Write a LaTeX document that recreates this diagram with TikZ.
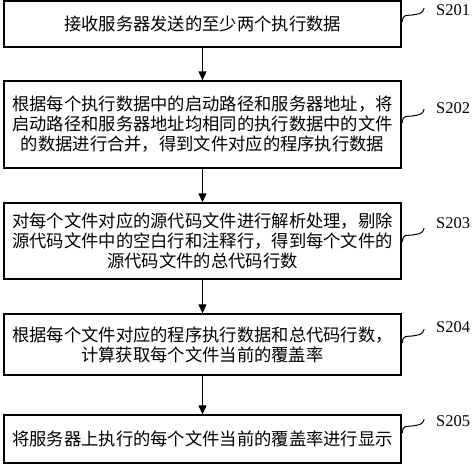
\documentclass[tikz,border=0pt]{standalone}
\usepackage{fontspec}
\setmainfont{Liberation Serif}
\newfontfamily\cjk{Noto Sans CJK SC}
\usetikzlibrary{arrows.meta,calc}
\begin{document}
\begin{tikzpicture}[x=1pt,y=1pt,
  stepbox/.style={draw,line width=1.3pt,minimum width=397pt,inner sep=0pt,align=center,font=\cjk\fontsize{17.3}{20}\selectfont},
  flow/.style={line width=1pt,-{Triangle[length=9pt,width=8pt]}},
  leader/.style={line width=1pt},
  lab/.style={font=\fontsize{16.5}{16.5}\selectfont,anchor=west,inner sep=0pt}]
\useasboundingbox (0,0) rectangle (474,-466);
\node[stepbox,minimum height=46pt] (b1) at (202.5,-24) {接收服务器发送的至少两个执行数据};
\node[stepbox,minimum height=87pt] (b2) at (202.5,-124.5) {根据每个执行数据中的启动路径和服务器地址，将\\启动路径和服务器地址均相同的执行数据中的文件\\的数据进行合并，得到文件对应的程序执行数据};
\node[stepbox,minimum height=76pt] (b3) at (202.5,-241) {对每个文件对应的源代码文件进行解析处理，剔除\\源代码文件中的空白行和注释行，得到每个文件的\\源代码文件的总代码行数};
\node[stepbox,minimum height=61pt] (b4) at (202.5,-344.5) {根据每个文件对应的程序执行数据和总代码行数，\\计算获取每个文件当前的覆盖率};
\node[stepbox,minimum height=48pt] (b5) at (202.5,-439) {将服务器上执行的每个文件当前的覆盖率进行显示};
\draw[flow] (b1) -- (b2);
\draw[flow] (b2) -- (b3);
\draw[flow] (b3) -- (b4);
\draw[flow] (b4) -- (b5);
\node[lab] (s1) at (436,-10) {S201};
\node[lab] (s2) at (436,-108) {S202};
\node[lab] (s3) at (436,-223) {S203};
\node[lab] (s4) at (436,-327) {S204};
\node[lab] (s5) at (436,-421) {S205};
\coordinate (c1) at ($(b1.east)+(0.5,2)$);
\coordinate (c2) at ($(b2.east)+(0.5,1.5)$);
\coordinate (c3) at ($(b3.east)+(0.5,-1)$);
\coordinate (c4) at ($(b4.east)+(0.5,1.5)$);
\coordinate (c5) at ($(b5.east)+(0.5,6)$);
\foreach \c in {c1,c2,c3,c4,c5}
  \draw[leader] (\c) .. controls +(1,9) and +(-5,-1) .. ++(10,7) .. controls +(6,1) and +(-1,-6) .. ++(12,7);
\end{tikzpicture}
\end{document}
